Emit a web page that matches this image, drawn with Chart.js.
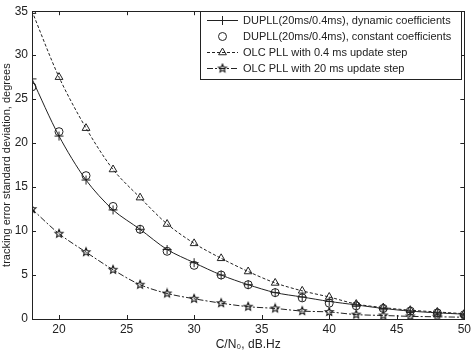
<!DOCTYPE html>
<html>
<head>
<meta charset="utf-8">
<script src="https://cdn.jsdelivr.net/npm/chart.js@4.4.1/dist/chart.umd.min.js"></script>
<style>
  html, body { margin: 0; padding: 0; background: #fff; }
  #wrap { width: 474px; height: 353px; }
</style>
</head>
<body>
<div id="wrap"><canvas id="chart" width="474" height="353"></canvas></div>
<script>
const cn0 = [18, 20, 22, 24, 26, 28, 30, 32, 34, 36, 38, 40, 42, 44, 46, 48, 50];
const dupllDynamic = [27.3, 20.8, 15.8, 12.4, 10.2, 7.9, 6.4, 5.0, 3.9, 3.0, 2.5, 2.0, 1.6, 1.2, 0.9, 0.7, 0.55];
const dupllConstant = [26.4, 21.3, 16.3, 12.8, 10.2, 7.7, 6.1, 5.0, 3.9, 3.0, 2.4, 1.8, 1.5, 1.2, 0.9, 0.7, 0.5];
const olcFast = [35, 27.5, 21.7, 17.0, 13.8, 10.8, 8.6, 6.9, 5.4, 4.1, 3.2, 2.5, 1.7, 1.3, 1.0, 0.8, 0.6];
const olcSlow = [12.5, 9.7, 7.6, 5.6, 3.9, 2.9, 2.3, 1.8, 1.4, 1.2, 0.9, 0.8, 0.5, 0.4, 0.3, 0.25, 0.2];
const xTicks = [20, 25, 30, 35, 40, 45, 50];
const yTicks = [0, 5, 10, 15, 20, 25, 30, 35];

const ink = "#222";
const fontFamily = "'Liberation Sans', Arial, sans-serif";

// pentagram marker
function makeStar(r) {
  const c = document.createElement("canvas");
  const s = Math.ceil(r * 2 + 3);
  c.width = s; c.height = s;
  const g = c.getContext("2d");
  g.strokeStyle = "#111";
  g.lineWidth = 1.1;
  g.beginPath();
  for (let i = 0; i < 10; i++) {
    const rad = i % 2 === 0 ? r : r * 0.45;
    const a = -Math.PI / 2 + i * Math.PI / 5;
    const px = s / 2 + rad * Math.cos(a), py = s / 2 + rad * Math.sin(a);
    if (i === 0) g.moveTo(px, py); else g.lineTo(px, py);
  }
  g.closePath();
  g.stroke();
  return c;
}
const starImg = makeStar(4.2);

const pts = (ys) => ys.map((y, i) => ({ x: cn0[i], y: y }));

const frame = {
  id: "frame",
  afterDraw(chart) {
    const { ctx, chartArea: a } = chart;
    const xs = chart.scales.x, ys = chart.scales.y;
    ctx.save();
    ctx.strokeStyle = ink;
    ctx.lineWidth = 1;
    ctx.strokeRect(Math.round(a.left) + 0.5, Math.round(a.top) + 0.5,
      Math.round(a.right - a.left), Math.round(a.bottom - a.top));
    ctx.beginPath();
    const t = 4;
    xTicks.forEach(v => {
      const px = Math.round(xs.getPixelForValue(v)) + 0.5;
      ctx.moveTo(px, a.bottom); ctx.lineTo(px, a.bottom - t);
      ctx.moveTo(px, a.top); ctx.lineTo(px, a.top + t);
    });
    yTicks.forEach(v => {
      const py = Math.round(ys.getPixelForValue(v)) + 0.5;
      ctx.moveTo(a.left, py); ctx.lineTo(a.left + t, py);
      ctx.moveTo(a.right, py); ctx.lineTo(a.right - t, py);
    });
    ctx.stroke();

    // legend box
    const bx = 200, by = 11, bw = 261, bh = 68;
    ctx.fillStyle = "#fff";
    ctx.fillRect(bx, by, bw, bh);
    ctx.strokeRect(bx + 0.5, by + 0.5, bw, bh);
    ctx.font = "11px " + fontFamily;
    ctx.textBaseline = "middle";
    chart.data.datasets.forEach((ds, i) => {
      const ry = by + 9.5 + i * 16;
      ctx.strokeStyle = ink;
      if (ds.showLine !== false) {
        ctx.save();
        ctx.setLineDash(ds.borderDash || []);
        ctx.beginPath();
        ctx.moveTo(bx + 7, ry); ctx.lineTo(bx + 38, ry);
        ctx.stroke();
        ctx.restore();
      }
      ctx.fillStyle = "rgba(0,0,0,0)";
      Chart.helpers.drawPoint(ctx, {
        pointStyle: ds.pointStyle, radius: ds.pointRadius, rotation: 0,
        borderWidth: 1
      }, bx + 22.5, ry);
      ctx.fillStyle = ink;
      ctx.fillText(ds.label, bx + 43, ry + 0.5);
    });
    ctx.restore();
  }
};

new Chart(document.getElementById("chart"), {
  type: "scatter",
  data: {
    datasets: [
      {
        label: "DUPLL(20ms/0.4ms), dynamic coefficients",
        data: pts(dupllDynamic),
        showLine: true,
        borderColor: ink,
        borderWidth: 1,
        pointStyle: "cross",
        pointRadius: 4.5,
        pointBorderColor: ink,
        pointBorderWidth: 1,
        tension: 0.3,
      },
      {
        label: "DUPLL(20ms/0.4ms), constant coefficients",
        data: pts(dupllConstant),
        showLine: false,
        pointStyle: "circle",
        pointRadius: 4,
        pointBorderColor: ink,
        pointBackgroundColor: "rgba(0,0,0,0)",
        pointBorderWidth: 1,
      },
      {
        label: "OLC PLL with 0.4 ms update step",
        data: pts(olcFast),
        showLine: true,
        borderColor: ink,
        borderWidth: 1,
        borderDash: [3, 2],
        pointStyle: "triangle",
        pointRadius: 4.5,
        pointBorderColor: ink,
        pointBackgroundColor: "rgba(0,0,0,0)",
        pointBorderWidth: 1,
        tension: 0.3,
      },
      {
        label: "OLC PLL with 20 ms update step",
        data: pts(olcSlow),
        showLine: true,
        borderColor: ink,
        borderWidth: 1,
        borderDash: [6, 2, 2, 2],
        pointStyle: starImg,
        pointRadius: 4,
        tension: 0.3,
      },
    ],
  },
  options: {
    responsive: false,
    animation: false,
    layout: { padding: { top: 4, right: 3, left: 0, bottom: 0 } },
    plugins: {
      legend: { display: false },
      tooltip: { enabled: false },
    },
    scales: {
      x: {
        type: "linear",
        min: 18,
        max: 50,
        afterBuildTicks: (s) => { s.ticks = xTicks.map(v => ({ value: v })); },
        afterFit: (s) => { s.height = 34; },
        grid: { display: false, drawTicks: false },
        border: { display: false },
        ticks: {
          color: ink,
          padding: 3,
          maxRotation: 0,
          font: { family: fontFamily, size: 12 },
        },
        title: {
          display: true,
          text: "C/N\u2080, dB.Hz",
          color: ink,
          padding: { top: 0, bottom: 1 },
          font: { family: fontFamily, size: 12 },
        },
      },
      y: {
        min: 0,
        max: 35,
        afterBuildTicks: (s) => { s.ticks = yTicks.map(v => ({ value: v })); },
        afterFit: (s) => { s.width = 32; },
        grid: { display: false, drawTicks: false },
        border: { display: false },
        ticks: {
          color: ink,
          padding: 4,
          font: { family: fontFamily, size: 12 },
        },
        title: {
          display: true,
          text: "tracking error standard deviation, degrees",
          color: ink,
          padding: { top: 0, bottom: 0 },
          font: { family: fontFamily, size: 11 },
        },
      },
    },
  },
  plugins: [frame],
});
</script>
</body>
</html>
